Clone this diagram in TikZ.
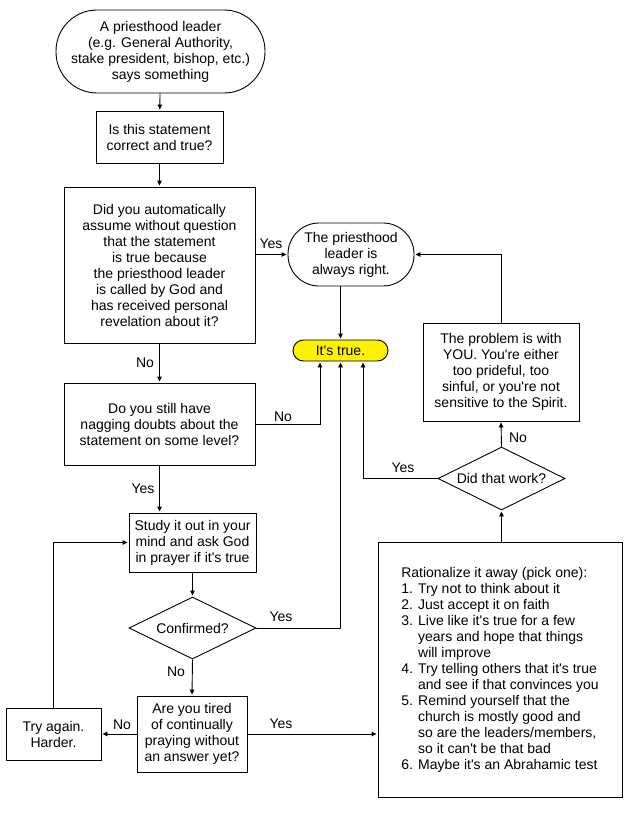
\documentclass[tikz,border=0pt]{standalone}
\usepackage{fontspec}
\setmainfont{Liberation Sans}
\usetikzlibrary{arrows.meta,shapes.geometric,calc}
\newcommand\ap{\textquotesingle}
\tikzset{
  base/.style={draw=black,line width=0.9pt,inner sep=0pt,align=center,
    font=\fontsize{14}{16}\selectfont},
  box/.style={base,rectangle},
  term/.style={base,rectangle,rounded corners=#1},
  dec/.style={base,diamond,aspect=2},
  conn/.style={line width=0.9pt,-{Triangle[length=5pt,width=4.5pt]},shorten >=1pt},
  lbl/.style={font=\fontsize{14}{16}\selectfont,inner sep=0pt}
}
\begin{document}
\begin{tikzpicture}[x=1pt,y=-1pt]
\useasboundingbox[fill=white] (0,0) rectangle (635,822);
\node[term=41pt,minimum width=209pt,minimum height=83pt] (top) at (160.5,51.5)
  {A priesthood leader\\(e.g. General Authority,\\stake president, bishop, etc.)\\says something};
\node[box,minimum width=127pt,minimum height=52pt] (q1) at (159.5,137)
  {Is this statement\\correct and true?};
\node[box,minimum width=191pt,minimum height=156pt] (q2) at (159.5,265)
  {Did you automatically\\assume without question\\that the statement\\is true because\\the priesthood leader\\is called by God and\\has received personal\\revelation about it?};
\node[term=31pt,minimum width=126pt,minimum height=63pt] (leader) at (351,254.5)
  {The priesthood\\leader is\\always right.};
\node[term=10.5pt,minimum width=95pt,minimum height=21pt,fill=yellow] (true) at (340.5,350.5)
  {It\ap s true.};
\node[box,minimum width=191pt,minimum height=82pt] (q3) at (159.5,424)
  {Do you still have\\nagging doubts about the\\statement on some level?};
\node[box,minimum width=127pt,minimum height=59pt] (study) at (192.5,542.5)
  {Study it out in your\\mind and ask God\\in prayer if it\ap s true};
\node[dec,minimum width=127pt,minimum height=62pt] (conf) at (192.5,628)
  {Confirmed?};
\node[box,minimum width=110pt,minimum height=76pt] (tired) at (192,734)
  {Are you tired\\of continually\\praying without\\an answer yet?};
\node[box,minimum width=95pt,minimum height=52pt] (again) at (53.5,734)
  {Try again.\\Harder.};
\node[box,minimum width=244pt,minimum height=255pt,align=left] (rat) at (500,669.5)
  {Rationalize it away (pick one):\\
   1. Try not to think about it\\
   2. Just accept it on faith\\
   3. Live like it\ap s true for a few\\
   \hphantom{3. }years and hope that things\\
   \hphantom{3. }will improve\\
   4. Try telling others that it\ap s true\\
   \hphantom{4. }and see if that convinces you\\
   5. Remind yourself that the\\
   \hphantom{5. }church is mostly good and\\
   \hphantom{5. }so are the leaders/members,\\
   \hphantom{5. }so it can\ap t be that bad\\
   6. Maybe it\ap s an Abrahamic test};
\node[box,minimum width=156pt,minimum height=98pt] (prob) at (501,372)
  {The problem is with\\YOU. You\ap re either\\too prideful, too\\sinful, or you\ap re not\\sensitive to the Spirit.};
\node[dec,minimum width=127pt,minimum height=63pt] (work) at (501.5,478.5)
  {Did that work?};

\coordinate (tL) at ($(true.south)+(-20.5,0)$);
\coordinate (tR) at ($(true.south)+(22.5,0)$);

\draw[conn] (top) -- (q1);
\draw[conn] (q1) -- (q2);
\draw[conn] (q2.east |- leader.west) -- (leader.west);
\draw[conn] (leader.south -| true.north) -- (true.north);
\draw[conn] (prob.north) |- (leader.east);
\draw[conn] (work.north) -- (prob.south);
\draw[conn] (work.west) -| (tR);
\draw[conn] (q3.east) -| (tL);
\draw[conn] (conf.east) -| (true.south);
\draw[conn] (q2.south) -- (q3.north);
\draw[conn] (q3.south) -- (q3.south |- study.north);
\draw[conn] (study.south) -- (conf.north);
\draw[conn] (conf.south) -- (tired.north);
\draw[conn] (tired.west) -- (again.east);
\draw[conn] (again.north) |- (study.west);
\draw[conn] (tired.east) -- (tired.east -| rat.west);
\draw[conn] (rat.north -| work.south) -- (work.south);

\node[lbl] (l1) at (271,244) {Yes};
\node[lbl] (l2) at (145,363) {No};
\node[lbl] (l3) at (283,417) {No};
\node[lbl] (l4) at (143,489) {Yes};
\node[lbl] (l5) at (281,617) {Yes};
\node[lbl] (l6) at (176,672) {No};
\node[lbl] (l7) at (122,725) {No};
\node[lbl] (l8) at (281,724) {Yes};
\node[lbl] (l9) at (518,438) {No};
\node[lbl] (l10) at (403,468) {Yes};
\end{tikzpicture}
\end{document}
